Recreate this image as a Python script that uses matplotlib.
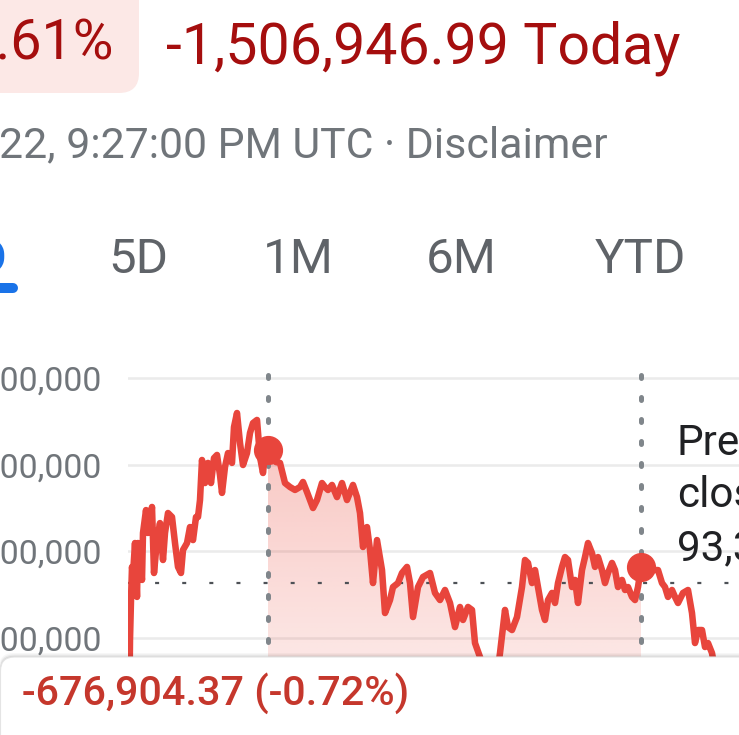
import numpy as np
import matplotlib
matplotlib.use("Agg")
import matplotlib.pyplot as plt
from matplotlib.patches import FancyBboxPatch

W, H, DPI = 739, 735, 100

# intraday series: minutes since first print, value in millions
minutes = [0, 1, 2, 3, 4, 6, 8, 9, 11, 13, 14, 17, 19, 21, 23, 25, 28, 31, 34, 36,
           39, 43, 46, 49, 52, 54, 58, 61, 64, 67, 69, 71, 73, 76, 79, 82, 85, 88, 91, 93,
           96, 99, 103, 105, 108, 111, 114, 118, 121, 124, 128, 131, 134, 137, 139, 143, 147, 151, 156, 161,
           166, 171, 174, 178, 184, 188, 193, 196, 199, 203, 208, 213, 218, 224, 228, 231, 234, 238, 241, 244,
           248, 253, 256, 261, 264, 269, 273, 278, 281, 284, 289, 294, 301, 306, 311, 316, 321, 326, 331, 334,
           339, 343, 346, 351, 356, 363, 368, 371, 376, 379, 383, 388, 393, 396, 399, 403, 406, 409, 413, 416,
           419, 423, 426, 429, 433, 436, 439, 443, 446, 449, 453, 456, 459, 463, 466, 469, 473, 476, 479, 483,
           486, 489, 493, 496, 499, 503, 506, 509, 512, 517, 524, 529, 533, 536, 539, 543, 546, 549, 554, 559,
           563, 566, 569, 573, 576, 579, 583, 587, 593]
value_m = [92.469, 92.989, 93.219, 93.410, 93.364, 93.548, 93.237, 93.548, 93.450, 93.335,
           93.606, 93.738, 93.606, 93.652, 93.756, 93.375, 93.565, 93.663, 93.450, 93.606,
           93.721, 93.698, 93.548, 93.410, 93.375, 93.508, 93.548, 93.640, 93.565, 93.698,
           93.698, 93.796, 94.027, 93.894, 94.010, 93.894, 94.038, 94.056, 93.940, 93.837,
           93.987, 94.067, 94.010, 94.217, 94.298, 94.125, 93.998, 94.067, 94.183, 94.240,
           94.258, 94.044, 93.952, 94.125, 94.086, 94.038, 94.015, 94.010, 93.894, 93.871,
           93.854, 93.871, 93.900, 93.842, 93.750, 93.796, 93.894, 93.871, 93.854, 93.883,
           93.813, 93.894, 93.796, 93.883, 93.813, 93.721, 93.525, 93.640, 93.508, 93.317,
           93.565, 93.392, 93.144, 93.219, 93.294, 93.317, 93.375, 93.410, 93.317, 93.121,
           93.294, 93.352, 93.375, 93.260, 93.219, 93.277, 93.202, 93.063, 93.179, 93.104,
           93.179, 93.162, 92.971, 92.890, 92.758, 92.671, 92.787, 92.913, 93.162, 93.063,
           93.046, 93.121, 93.294, 93.450, 93.433, 93.317, 93.392, 93.294, 93.162, 93.104,
           93.219, 93.260, 93.202, 93.317, 93.410, 93.467, 93.450, 93.294, 93.335, 93.202,
           93.392, 93.467, 93.548, 93.490, 93.410, 93.467, 93.392, 93.317, 93.375, 93.433,
           93.392, 93.294, 93.335, 93.277, 93.294, 93.237, 93.219, 93.294, 93.409, 93.421,
           93.392, 93.392, 93.317, 93.294, 93.237, 93.277, 93.237, 93.202, 93.260, 93.277,
           93.144, 92.971, 93.046, 93.046, 92.948, 92.971, 92.913, 92.787, 92.700]

sel_start, sel_end = 139, 512
prev_close = 93.317
grid_vals = [93.0, 93.5, 94.0, 94.5]
grid_labels = ["93,000,000", "93,500,000", "94,000,000", "94,500,000"]

pct_today = "-1.61%"
change_today = "-1,506,946.99 Today"
timestamp = "22, 9:27:00 PM UTC · Disclaimer"
tabs = ["1D", "5D", "1M", "6M", "YTD"]
prev_close_lines = ["Previous", "close", "93,316,874.21"]
range_change = "-676,904.37 (-0.72%)"

RED = "#e8453c"
plt.rcParams["font.family"] = ["Roboto", "DejaVu Sans"]

fig = plt.figure(figsize=(W / DPI, H / DPI), dpi=DPI)
fig.patch.set_facecolor("white")

# ---- chart axes (pixel 128..739 wide, 360..735 tall)
ax = fig.add_axes([128 / W, 0, (W - 128) / W, 1 - 360 / H], zorder=1)
y_lo, y_hi = 92.4404, 94.6038
t = np.array(minutes, dtype=float)
v = np.array(value_m)

for g in grid_vals:
    ax.axhline(g, color="#ebebeb", lw=1.8, zorder=1)

# gradient fill over the selected range
sel = (t >= sel_start) & (t <= sel_end)
poly = ax.fill_between(t[sel], v[sel], y_lo, facecolor="none", edgecolor="none")
alphas = np.linspace(0.07, 0.32, 200)
grad = np.zeros((200, 1, 4))
grad[..., 0], grad[..., 1], grad[..., 2] = 234 / 255, 67 / 255, 53 / 255
grad[:, 0, 3] = alphas
img = ax.imshow(grad, extent=[sel_start, sel_end, y_lo, 94.3], origin="lower",
                aspect="auto", zorder=2, interpolation="bilinear")
img.set_clip_path(poly.get_paths()[0], transform=ax.transData)

ax.axhline(prev_close, color="#4d5156", lw=1.6, linestyle=(0, (1.8, 10.4)), zorder=3)
for x in (sel_start, sel_end):
    ax.plot([x, x], [94.517, y_lo], color="#80868b", lw=3.6,
            linestyle=(0, (0.6, 3.8)), dash_capstyle="round", zorder=3)

ax.plot(t, v, color=RED, lw=4.7, solid_joinstyle="round", solid_capstyle="round", zorder=5)
ax.plot([sel_start, sel_end], [v[t == sel_start][0], v[t == sel_end][0]], "o",
        ms=20, color=RED, zorder=6)

ax.set_xlim(-1, 610)
ax.set_ylim(y_lo, y_hi)
ax.set_yticks(grid_vals, grid_labels)
ax.set_xticks([])
ax.tick_params(axis="y", length=0, pad=18.7, labelsize=24.3, labelcolor="#70757a")
for s in ax.spines.values():
    s.set_visible(False)
ax.patch.set_alpha(0)

# ---- overlay in pixel coordinates
ov = fig.add_axes([0, 0, 1, 1], zorder=10)
ov.set_xlim(0, W)
ov.set_ylim(H, 0)
ov.axis("off")
ov.patch.set_alpha(0)

ov.add_patch(FancyBboxPatch((-40, -40), 179, 133, boxstyle="round,pad=0,rounding_size=20",
                            fc="#fce8e6", ec="none"))
ov.text(113, 59, pct_today, ha="right", va="baseline", fontsize=40, color="#a50e0e")
ov.text(166, 63, change_today, ha="left", va="baseline", fontsize=41.2, color="#a50e0e")
ov.text(608, 157, timestamp, ha="right", va="baseline", fontsize=30.8, color="#70757a")

tab_x = [8, 138.5, 298, 461.5, 640]
for i, (lab, x) in enumerate(zip(tabs, tab_x)):
    if i == 0:
        ov.text(x, 273, lab, ha="right", va="baseline", fontsize=35.5, color="#1a73e8")
    else:
        ov.text(x, 273, lab, ha="center", va="baseline", fontsize=35.5, color="#5f6368")
ov.plot([-40, 13], [288, 288], color="#1a73e8", lw=7.2, solid_capstyle="round")

for line, yb in zip(prev_close_lines, [455, 507, 560]):
    ov.text(677, yb, line, ha="left", va="baseline", fontsize=30.4, color="#202124")

# bottom card with a soft shadow
for k, a in [(4, 0.03), (2.5, 0.05), (1.2, 0.08)]:
    ov.add_patch(FancyBboxPatch((0.5 - k * 0.3, 657 - k), W + 40, 120,
                                boxstyle="round,pad=0,rounding_size=14",
                                fc="#000000", ec="none", alpha=a))
ov.add_patch(FancyBboxPatch((0.5, 657), W + 40, 120, boxstyle="round,pad=0,rounding_size=14",
                            fc="white", ec="#e4e4e4", lw=0.8))
ov.text(22, 705, range_change, ha="left", va="baseline", fontsize=29.8,
        color="#c5372c", fontweight="medium")

fig.savefig("out.png", dpi=DPI, facecolor="white")
